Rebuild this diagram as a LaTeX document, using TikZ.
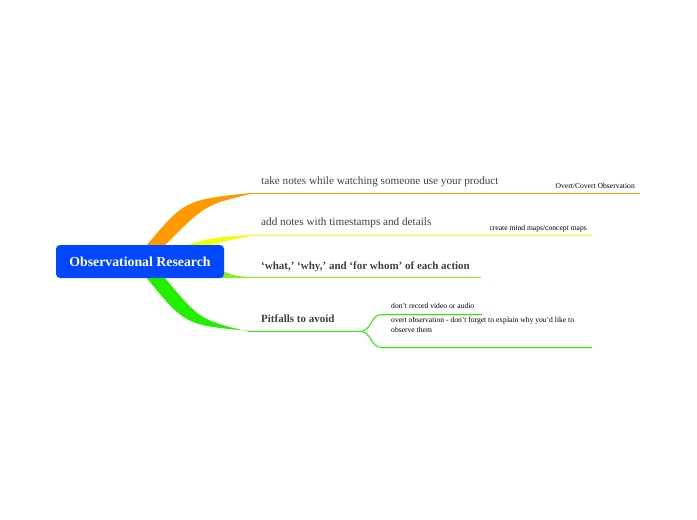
\documentclass[tikz,border=0pt]{standalone}
\usepackage{fontspec}
\setmainfont{Liberation Serif}
\begin{document}
\begin{tikzpicture}[x=1pt,y=-1pt,
  lbl/.style={anchor=base west,inner sep=0,text=black!75,font=\fontsize{11.2}{13}\selectfont},
  blbl/.style={lbl,font=\fontsize{11}{13}\selectfont\bfseries},
  small/.style={anchor=base west,inner sep=0,text=black,font=\fontsize{7.6}{10}\selectfont,align=left}]
\useasboundingbox (0,0) rectangle (697,520);
\definecolor{cor}{HTML}{FF9900}\definecolor{cye}{HTML}{EEFF00}
\definecolor{clg}{HTML}{88EE22}\definecolor{cgr}{HTML}{22EE00}
\definecolor{cbl}{HTML}{0047FF}
% tapered branches
\fill[cor] (146,246) .. controls (185,200) .. (250,193) -- (250,194) .. controls (205,205) .. (164,246) -- cycle;
\fill[cye] (180,247) .. controls (210,238) .. (250,235) -- (250,236) .. controls (215,243) .. (190,256) -- cycle;
\fill[clg] (220,270) .. controls (235,276) .. (250,277) -- (250,278) .. controls (235,278) .. (220,278) -- cycle;
\fill[cgr] (146,277) .. controls (185,325) .. (250,331) -- (250,332) .. controls (200,320) .. (164,277) -- cycle;
\node[fill=cbl,rounded corners=4pt,minimum width=168pt,minimum height=33pt,inner sep=0,
  text=white,font=\fontsize{13.8}{15}\selectfont\bfseries] (c) at (140,261.5) {Observational Research};
% lines
\draw[draw=cor,line width=1pt] (250,193.5) coordinate (o1) -- (640,193.5) coordinate (o2);
\draw[draw=cye,line width=1pt] (250,235.5) coordinate (y1) -- (592,235.5) coordinate (y2);
\draw[draw=clg,line width=1pt] (250,277.5) coordinate (g1) -- (481,277.5) coordinate (g2);
\draw[draw=cgr,line width=1pt] (250,331.5) coordinate (p1) -- (360,331.5) coordinate (p2);
\draw[draw=cgr,line width=1pt] (p2) .. controls (372,331.5) and (370,314.5) .. (382,314.5) -- (482,314.5) coordinate (q1);
\draw[draw=cgr,line width=1pt] (p2) .. controls (372,331.5) and (370,347.5) .. (382,347.5) -- (592,347.5) coordinate (q2);
% texts
\node[lbl] (t1) at (261,184) {take notes while watching someone use your product};
\node[small,anchor=base east] (t1a) at (635,188) {Overt/Covert Observation};
\node[lbl] (t2) at (261,225) {add notes with timestamps and details};
\node[small,anchor=base east] (t2a) at (587,230) {create mind maps/concept maps};
\node[blbl] (t3) at (261,269) {‘what,’ ‘why,’ and ‘for whom’ of each action};
\node[blbl] (t4) at (261,322) {Pitfalls to avoid};
\node[small] (t5) at (391,308) {don’t record video or audio};
\node[small] (t6) at (391,332) {overt observation - don’t forget to explain why you’d like to\\observe them};
\end{tikzpicture}
\end{document}
